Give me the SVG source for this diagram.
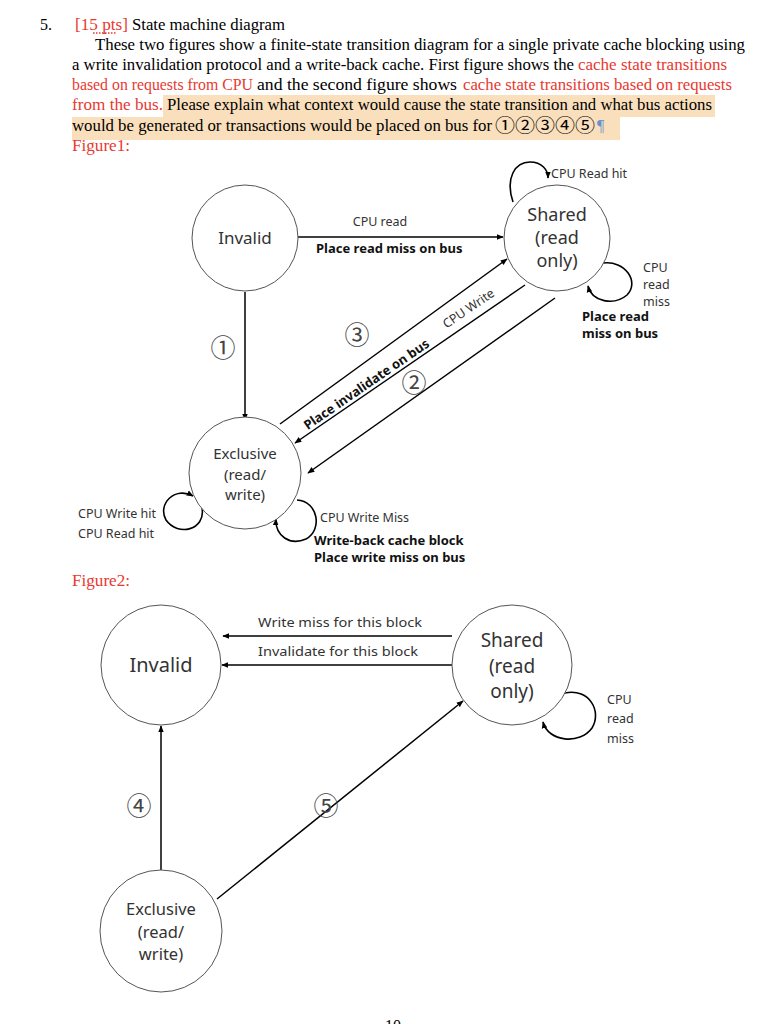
<svg xmlns="http://www.w3.org/2000/svg" width="780" height="1024" viewBox="0 0 780 1024">
<defs>
<marker id="ah" viewBox="0 0 10 10" refX="9" refY="5" markerWidth="7" markerHeight="7" orient="auto" markerUnits="userSpaceOnUse">
<path d="M0,1 L10,5 L0,9 z" fill="#000"/>
</marker>
<style>
.hd{font-family:"Liberation Serif","Times New Roman",serif;font-size:16px;fill:#000}
.red{fill:#e8392f}
.st{fill:#fff;stroke:#555;stroke-width:1}
.nl{font-family:"Noto Sans","Noto Sans CJK SC",sans-serif;fill:#333;text-anchor:middle}
.lb{font-family:"Noto Sans","Noto Sans CJK SC",sans-serif;fill:#333;font-size:12.5px}
.bl{font-family:"Noto Sans","Noto Sans CJK SC",sans-serif;fill:#111;font-size:13px;font-weight:bold}
.cn{font-family:"Noto Sans CJK SC","DejaVu Sans",sans-serif;fill:#444;font-size:25px;text-anchor:middle}
.ln{fill:none;stroke:#000;stroke-width:1.5}
.lp{fill:none;stroke:#000;stroke-width:1.6}
</style>
</defs>
<rect width="780" height="1024" fill="#fff"/>

<g id="header">
<rect x="163" y="95" width="552" height="22" fill="#fadfbc"/>
<rect x="72" y="117" width="548" height="23" fill="#fadfbc"/>
<text class="hd" x="40" y="30">5.</text>
<text class="hd red" x="75" y="30" textLength="53" lengthAdjust="spacingAndGlyphs">[15 pts]</text>
<line x1="93" y1="33" x2="116" y2="33" stroke="#e8392f" stroke-width="1.5" stroke-dasharray="1.5,1.5"/>
<text class="hd" x="132" y="30" textLength="153" lengthAdjust="spacingAndGlyphs">State machine diagram</text>
<text class="hd" x="95" y="50" textLength="650" lengthAdjust="spacingAndGlyphs">These two figures show a finite-state transition diagram for a single private cache blocking using</text>
<text class="hd" x="72" y="70" textLength="502" lengthAdjust="spacingAndGlyphs">a write invalidation protocol and a write-back cache. First figure shows the</text>
<text class="hd red" x="578" y="70" textLength="149" lengthAdjust="spacingAndGlyphs">cache state transitions</text>
<text class="hd red" x="72" y="90" textLength="181" lengthAdjust="spacingAndGlyphs">based on requests from CPU</text>
<text class="hd" x="257" y="90" textLength="200" lengthAdjust="spacingAndGlyphs">and the second figure shows</text>
<text class="hd red" x="463" y="90" textLength="269" lengthAdjust="spacingAndGlyphs">cache state transitions based on requests</text>
<text class="hd red" x="72" y="110" textLength="91" lengthAdjust="spacingAndGlyphs">from the bus.</text>
<text class="hd" x="167" y="110" textLength="545" lengthAdjust="spacingAndGlyphs">Please explain what context would cause the state transition and what bus actions</text>
<text class="hd" x="72" y="131" textLength="420" lengthAdjust="spacingAndGlyphs">would be generated or transactions would be placed on bus for</text>
<text class="hd" x="495" y="132" textLength="100" lengthAdjust="spacingAndGlyphs" style="font-family:'Noto Sans CJK SC','DejaVu Sans',sans-serif;font-size:18px">①②③④⑤</text>
<text class="hd" x="597" y="131" style="fill:#6a8fd0">¶</text>
<text class="hd red" x="72" y="151" textLength="58" lengthAdjust="spacingAndGlyphs">Figure1:</text>
<text class="hd red" x="72" y="586" textLength="58" lengthAdjust="spacingAndGlyphs">Figure2:</text>
<text class="hd" x="385" y="1031">10</text>
</g>

<g id="connectors">
<!-- figure 1 -->
<line class="ln" x1="298" y1="237" x2="503" y2="237" marker-end="url(#ah)"/>
<line class="ln" x1="245" y1="292" x2="245" y2="420" marker-end="url(#ah)"/>
<line class="ln" x1="280" y1="424" x2="507" y2="259" marker-end="url(#ah)"/>
<line class="ln" x1="525" y1="285" x2="295" y2="443" marker-end="url(#ah)"/>
<line class="ln" x1="555" y1="298" x2="308" y2="473" marker-end="url(#ah)"/>
<path class="lp" d="M513,202 C505,178 515,162 530,162 C542,162 548,170 548,178" marker-end="url(#ah)"/>
<path class="lp" d="M603,263 C625,260 640,282 627,295 C614,306 592,302 588,286" marker-end="url(#ah)"/>
<path class="lp" d="M202,508 C206,530 178,537 166,520 C157,504 175,486 193,496" marker-end="url(#ah)"/>
<path class="lp" d="M297,500 C318,501 323,530 306,539 C290,546 275,536 276,519" marker-end="url(#ah)"/>
<!-- figure 2 -->
<line class="ln" x1="452" y1="636" x2="223" y2="636" marker-end="url(#ah)"/>
<line class="ln" x1="452" y1="665" x2="222" y2="665" marker-end="url(#ah)"/>
<line class="ln" x1="161" y1="870" x2="161" y2="726" marker-end="url(#ah)"/>
<line class="ln" x1="217" y1="899" x2="463" y2="701" marker-end="url(#ah)"/>
<path class="lp" d="M565,693 C590,688 602,712 592,728 C580,745 548,742 543,722" marker-end="url(#ah)"/>
</g>

<g id="f1-invalid">
<circle class="st" cx="245" cy="238" r="53"/>
<text class="nl" x="245" y="244" font-size="17">Invalid</text>
</g>
<g id="f1-shared">
<circle class="st" cx="557" cy="238" r="53"/>
<text class="nl" x="557" y="221" font-size="18">Shared</text>
<text class="nl" x="557" y="244" font-size="18">(read</text>
<text class="nl" x="557" y="267" font-size="18">only)</text>
</g>
<g id="f1-exclusive">
<circle class="st" cx="245" cy="473" r="56"/>
<text class="nl" x="245" y="459" font-size="15">Exclusive</text>
<text class="nl" x="245" y="480" font-size="15">(read/</text>
<text class="nl" x="245" y="500" font-size="15">write)</text>
</g>

<g id="f1-labels">
<text class="lb" x="380" y="226" text-anchor="middle" font-size="13">CPU read</text>
<text class="bl" x="316" y="253">Place read miss on bus</text>
<text class="lb" x="551" y="178" font-size="13">CPU Read hit</text>
<text class="lb" x="643" y="272">CPU</text>
<text class="lb" x="643" y="289">read</text>
<text class="lb" x="643" y="306">miss</text>
<text class="bl" x="582" y="321">Place read</text>
<text class="bl" x="582" y="338">miss on bus</text>
<text class="cn" x="223" y="357">①</text>
<text class="cn" x="357" y="344">③</text>
<text class="cn" x="414" y="392">②</text>
<text class="bl" text-anchor="middle" transform="translate(369,388) rotate(-34.5)">Place invalidate on bus</text>
<text class="lb" text-anchor="middle" transform="translate(471,312) rotate(-34.5)">CPU Write</text>
<text class="lb" x="78" y="518" font-size="13">CPU Write hit</text>
<text class="lb" x="78" y="538" font-size="13">CPU Read hit</text>
<text class="lb" x="320" y="522" font-size="13">CPU Write Miss</text>
<text class="bl" x="314" y="545">Write-back cache block</text>
<text class="bl" x="314" y="562">Place write miss on bus</text>
</g>

<g id="f2-invalid">
<circle class="st" cx="161" cy="665" r="60"/>
<text class="nl" x="161" y="672" font-size="20">Invalid</text>
</g>
<g id="f2-shared">
<circle class="st" cx="512" cy="665" r="60"/>
<text class="nl" x="512" y="647" font-size="19">Shared</text>
<text class="nl" x="512" y="673" font-size="19">(read</text>
<text class="nl" x="512" y="698" font-size="19">only)</text>
</g>
<g id="f2-exclusive">
<circle class="st" cx="161" cy="931" r="61"/>
<text class="nl" x="161" y="915" font-size="16.5">Exclusive</text>
<text class="nl" x="161" y="938" font-size="16.5">(read/</text>
<text class="nl" x="161" y="960" font-size="16.5">write)</text>
</g>

<g id="f2-labels">
<text class="lb" x="258" y="627" font-size="15" textLength="164" lengthAdjust="spacingAndGlyphs">Write miss for this block</text>
<text class="lb" x="258" y="656" font-size="15" textLength="160" lengthAdjust="spacingAndGlyphs">Invalidate for this block</text>
<text class="lb" x="607" y="704" font-size="14.5">CPU</text>
<text class="lb" x="607" y="723" font-size="14.5">read</text>
<text class="lb" x="607" y="743" font-size="14.5">miss</text>
<text class="cn" x="139" y="815" font-size="23">④</text>
<text class="cn" x="326" y="815" font-size="23">⑤</text>
</g>
</svg>
